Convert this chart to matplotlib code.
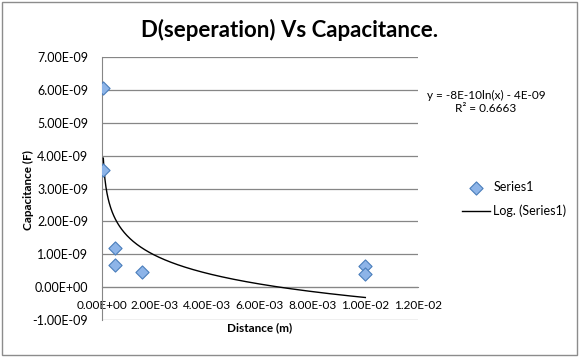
import numpy as np
import matplotlib.pyplot as plt
from matplotlib.ticker import FuncFormatter, MultipleLocator
from matplotlib.patches import Rectangle

plt.rcParams['font.family'] = ['Lato', 'DejaVu Sans']

# datos
distancia = [0.00005, 0.00005, 0.0005, 0.0005, 0.0015, 0.01, 0.01]
capacitancia = [6.05e-9, 3.56e-9, 1.2e-9, 0.67e-9, 0.45e-9, 0.64e-9, 0.40e-9]

# linea de tendencia logaritmica (segun ecuacion mostrada)
coef_a = -8e-10
coef_b = -4e-09
ecuacion = 'y = -8E-10ln(x) - 4E-09'
r2_texto = 'R² = 0.6663'

fig = plt.figure(figsize=(5.8, 3.59), dpi=100)
ax = fig.add_axes([102 / 580, 1 - 320 / 359, 316 / 580, 263 / 359])

# marco del grafico
fig.patches.append(Rectangle((2 / 580, 1 - 355 / 359), 575 / 580, 353 / 359,
                             transform=fig.transFigure, fill=False,
                             edgecolor='#8c8c8c', linewidth=1))

x_tend = np.linspace(min(distancia), max(distancia), 500)
y_tend = coef_a * np.log(x_tend) + coef_b
ax.plot(x_tend, y_tend, color='black', linewidth=1, label='Log. (Series1)', zorder=3)
ax.scatter(distancia, capacitancia, marker='D', s=45, facecolor='#8db4e8',
           edgecolor='#4a7ebb', linewidth=0.8, label='Series1', zorder=4)

ax.set_xlim(0, 0.012)
ax.set_ylim(-1e-9, 7e-9)
ax.xaxis.set_major_locator(MultipleLocator(0.002))
ax.yaxis.set_major_locator(MultipleLocator(1e-9))
fmt = FuncFormatter(lambda v, p: f'{v:.2E}')
ax.xaxis.set_major_formatter(fmt)
ax.yaxis.set_major_formatter(fmt)
ax.tick_params(axis='y', length=0, labelsize=9, pad=10)
ax.tick_params(axis='x', length=0, labelsize=8.5, pad=9)

ax.grid(axis='y', color='#868686', linewidth=0.9)
ax.set_axisbelow(True)
for s in ['top', 'right']:
    ax.spines[s].set_visible(False)
ax.spines['left'].set_color('#868686')
ax.spines['bottom'].set_color('#868686')
ax.spines['bottom'].set_position(('data', 0))

fig.text(290 / 580, 1 - 30 / 359, 'D(seperation) Vs Capacitance.', ha='center', va='center',
         fontsize=16, fontweight='bold')
fig.text(28 / 580, 1 - 190 / 359, 'Capacitance (F)', rotation=90, ha='center', va='center',
         fontsize=8.5, fontweight='bold')
fig.text(260 / 580, 1 - 328 / 359, 'Distance (m)', ha='center', va='center',
         fontsize=8.5, fontweight='bold')

fig.text(486 / 580, 1 - 95 / 359, ecuacion, ha='center', va='center', fontsize=8.5)
fig.text(486 / 580, 1 - 108 / 359, r2_texto, ha='center', va='center', fontsize=8.5)

handles, labels = ax.get_legend_handles_labels()
fig.legend(handles[::-1], labels[::-1], loc='center left', bbox_to_anchor=(462 / 580, 1 - 199 / 359),
           frameon=False, fontsize=9, handlelength=2.25, handletextpad=0.25, labelspacing=0.95,
           borderpad=0, borderaxespad=0)

fig.savefig('out.png', dpi=100)
